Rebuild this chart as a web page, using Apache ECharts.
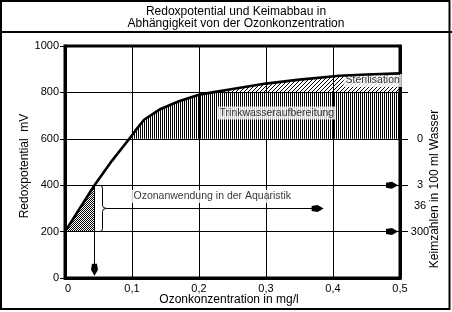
<!DOCTYPE html>
<html>
<head>
<meta charset="utf-8">
<script src="https://cdn.jsdelivr.net/npm/echarts@6/dist/echarts.min.js"></script>
<style>
html,body{margin:0;padding:0;background:#fff;}
#c{width:452px;height:312px;}
</style>
</head>
<body>
<div id="c"></div>
<script>
// ---- data ----
const titleLines = ['Redoxpotential und Keimabbau in', 'Abhängigkeit von der Ozonkonzentration'];
const xAxisTitle = 'Ozonkonzentration in mg/l';
const yAxisTitle = 'Redoxpotential  mV';
const y2AxisTitle = 'Keimzahlen in 100 ml Wasser';

const xTickLabels = ['0', '0,1', '0,2', '0,3', '0,4', '0,5'];
const yTickLabels = ['0', '200', '400', '600', '800', '1000'];
const rightTickValues = [600, 400, 311, 200];
const rightTickLabels = ['0', '3', '36', '300'];
const rightTickMarks = [200, 400, 600, 800];

const curveX = [0, 0.044, 0.07, 0.096, 0.105, 0.118, 0.141, 0.17, 0.2, 0.22, 0.25, 0.3, 0.35, 0.41, 0.45, 0.5];
const curveY = [200, 400, 505, 600, 635, 682, 726, 762, 790, 800, 815, 838, 855, 872, 877, 882];

const triangleEndX = 0.044;
const triangleBase = 200;
const drinkBase = 600;
const drinkTop = 800;
const drinkStartX = 0.096;
const sterilStartX = 0.22;

const noteTexts = ['Sterilisation', 'Trinkwasseraufbereitung', 'Ozonanwendung in der Aquaristik'];
const noteX = [0.415, 0.227, 0.0985];
const noteY = [851, 711, 351];

const arrowFromX = [0.044, 0.062, 0.044, 0.044];
const arrowFromY = [400, 300, 400, 200];
const arrowToX = [0.044, 0.386, 0.497, 0.497];
const arrowToY = [10, 300, 400, 200];

const braceX = [0.051];
const braceTop = [400];
const braceBottom = [200];

// ---- patterns ----
function makePattern(w, h, pixels) {
  const c = document.createElement('canvas');
  c.width = w; c.height = h;
  const g = c.getContext('2d');
  g.fillStyle = '#000';
  pixels.forEach(p => g.fillRect(p[0], p[1], 1, 1));
  return { image: c, repeat: 'repeat' };
}
const vertPattern = makePattern(2, 2, [[0, 0], [0, 1]]);
const diagPattern = makePattern(4, 4, [[3, 0], [2, 1], [1, 2], [0, 3]]);
const dotPattern = makePattern(2, 2, [[0, 0], [1, 1]]);

const curve = curveX.map((x, i) => [x, curveY[i]]);
const triData = curve.filter(p => p[0] <= triangleEndX);
const drinkData = curve.filter(p => p[0] >= drinkStartX).map(p => [p[0], Math.min(p[1], drinkTop)]);
const sterilData = curve.filter(p => p[0] >= sterilStartX);

const FONT = '"Liberation Sans", Arial, sans-serif';

function areaSeries(data, origin, pattern) {
  return {
    type: 'line', data: data, symbol: 'none', silent: true,
    lineStyle: { width: 0, opacity: 0 },
    areaStyle: { origin: origin, color: pattern, opacity: 1 },
    z: 2
  };
}

const chart = echarts.init(document.getElementById('c'), null, { renderer: 'canvas' });
chart.setOption({
  animation: false,
  backgroundColor: '#fff',
  grid: { left: 65, right: 52, top: 46, bottom: 34, show: true, borderColor: '#000', borderWidth: 3, backgroundColor: 'transparent', containLabel: false, outerBoundsMode: 'none' },
  xAxis: {
    type: 'value', min: 0, max: 0.5, interval: 0.1,
    axisLine: { show: true, lineStyle: { color: '#000', width: 3 } },
    axisTick: { show: false },
    splitLine: { show: true, lineStyle: { color: '#000', width: 1 } },
    axisLabel: {
      color: '#000', fontSize: 11, fontFamily: FONT, margin: 5,
      alignMinLabel: 'left',
      formatter: v => xTickLabels[Math.round(v * 10)]
    }
  },
  yAxis: [{
    type: 'value', min: 0, max: 1000, interval: 200,
    axisLine: { show: true, lineStyle: { color: '#000', width: 3 } },
    axisTick: { show: true, length: 5, lineStyle: { color: '#000', width: 1 } },
    splitLine: { show: true, lineStyle: { color: '#000', width: 1 } },
    axisLabel: {
      color: '#000', fontSize: 11, fontFamily: FONT, margin: 6,
      formatter: v => yTickLabels[Math.round(v / 200)]
    }
  }, {
    type: 'value', position: 'right', min: 0, max: 1000, interval: 200,
    axisLine: { show: true, lineStyle: { color: '#000', width: 3 } },
    axisTick: { show: true, length: 8, customValues: rightTickMarks, lineStyle: { color: '#000', width: 1 } },
    splitLine: { show: false },
    axisLabel: {
      color: '#000', fontSize: 11, fontFamily: FONT, margin: 20, align: 'center',
      customValues: rightTickValues,
      formatter: v => rightTickLabels[rightTickValues.indexOf(v)]
    }
  }],
  series: [
    areaSeries(triData, triangleBase, dotPattern),
    areaSeries(drinkData, drinkBase, vertPattern),
    areaSeries(sterilData, drinkTop, diagPattern),
    {
      type: 'scatter', z: 3, silent: true, symbolSize: 1,
      itemStyle: { color: 'rgba(0,0,0,0)' },
      data: noteTexts.map((t, i) => ({ value: [noteX[i], noteY[i]], name: t })),
      label: {
        show: true, position: 'right', distance: 0,
        formatter: p => p.name,
        color: '#000', fontSize: 10.5, fontFamily: FONT,
        backgroundColor: '#fff', padding: [1, 2, 1, 2]
      }
    },
    {
      type: 'line', data: curve, symbol: 'none', silent: true,
      lineStyle: { color: '#000', width: 2.6 }, z: 4
    },
    {
      type: 'custom', z: 5, silent: true,
      encode: { x: [0, 2], y: [1, 3] },
      data: arrowFromX.map((x, i) => [x, arrowFromY[i], arrowToX[i], arrowToY[i]]),
      renderItem: function (params, api) {
        const p1 = api.coord([api.value(0), api.value(1)]);
        const p2 = api.coord([api.value(2), api.value(3)]);
        const dx = p2[0] - p1[0], dy = p2[1] - p1[1];
        const len = Math.hypot(dx, dy);
        const ux = dx / len, uy = dy / len, nx = -uy, ny = ux;
        const snap = v => Math.round(v - 0.5) + 0.5;
        const ex = p2[0], ey = p2[1];
        const pt = (a, b) => [ex + ux * a + nx * b, ey + uy * a + ny * b];
        const horiz = Math.abs(dy) < 0.5;
        const x1 = horiz ? p1[0] : snap(p1[0]);
        const y1 = horiz ? snap(p1[1]) : p1[1];
        const x2 = horiz ? ex - ux * 6 : snap(ex);
        const y2 = horiz ? snap(ey) : ey - uy * 6;
        return {
          type: 'group', children: [
            { type: 'line', shape: { x1: x1, y1: y1, x2: x2, y2: y2 }, style: { stroke: '#000', lineWidth: 1 } },
            { type: 'polygon', shape: { points: [pt(0, 0), pt(-6, 3.5), pt(-12, 2.5), pt(-12, -2.5), pt(-6, -3.5)] }, style: { fill: '#000' } }
          ]
        };
      }
    },
    {
      type: 'custom', z: 5, silent: true,
      encode: { x: 0, y: [1, 2] },
      data: braceX.map((x, i) => [x, braceTop[i], braceBottom[i]]),
      renderItem: function (params, api) {
        const t = api.coord([api.value(0), api.value(1)]);
        const b = api.coord([api.value(0), api.value(2)]);
        const x0 = Math.round(t[0]) + 0.5, yT = t[1], yB = b[1], yM = (yT + yB) / 2;
        const xs = x0 + 3, xt = x0 + 7;
        const path = 'M' + x0 + ',' + yT + ' Q' + xs + ',' + yT + ' ' + xs + ',' + (yT + 3) +
          ' L' + xs + ',' + (yM - 3) + ' Q' + xs + ',' + yM + ' ' + xt + ',' + yM +
          ' Q' + xs + ',' + yM + ' ' + xs + ',' + (yM + 3) +
          ' L' + xs + ',' + (yB - 3) + ' Q' + xs + ',' + yB + ' ' + x0 + ',' + yB;
        return { type: 'path', shape: { pathData: path }, style: { stroke: '#000', fill: null, lineWidth: 1 } };
      }
    }
  ],
  graphic: [
    { type: 'rect', shape: { x: 1, y: 1, width: 448.5, height: 308 }, style: { stroke: '#000', lineWidth: 2, fill: null }, z: 100 },
    { type: 'line', shape: { x1: 0, y1: 32, x2: 452, y2: 32 }, style: { stroke: '#000', lineWidth: 2 }, z: 100 },
    { type: 'text', x: 236, y: 12, style: { text: titleLines[0], font: '12px ' + FONT, fill: '#000', align: 'center', verticalAlign: 'middle', textAlign: 'center', textVerticalAlign: 'middle' } },
    { type: 'text', x: 236, y: 24, style: { text: titleLines[1], font: '12px ' + FONT, fill: '#000', align: 'center', verticalAlign: 'middle', textAlign: 'center', textVerticalAlign: 'middle' } },
    { type: 'text', x: 229, y: 300, style: { text: xAxisTitle, font: '12px ' + FONT, fill: '#000', align: 'center', verticalAlign: 'middle', textAlign: 'center', textVerticalAlign: 'middle' } },
    { type: 'text', x: 25, y: 166, rotation: Math.PI / 2, style: { text: yAxisTitle, font: '12px ' + FONT, fill: '#000', align: 'center', verticalAlign: 'middle', textAlign: 'center', textVerticalAlign: 'middle' } },
    { type: 'text', x: 435, y: 189, rotation: Math.PI / 2, style: { text: y2AxisTitle, font: '12px ' + FONT, fill: '#000', align: 'center', verticalAlign: 'middle', textAlign: 'center', textVerticalAlign: 'middle' } }
  ]
});
</script>
</body>
</html>
